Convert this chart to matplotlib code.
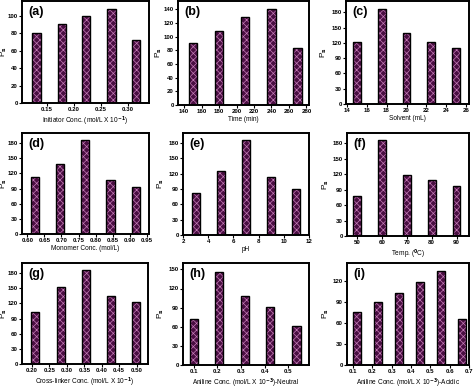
import numpy as np
import matplotlib.pyplot as plt

plt.rcParams['font.family'] = ['Liberation Sans', 'DejaVu Sans']
plt.rcParams['font.weight'] = 'bold'
plt.rcParams['mathtext.fontset'] = 'dejavusans'
plt.rcParams['mathtext.default'] = 'bf'
plt.rcParams['hatch.linewidth'] = 0.5

# bar positions (as drawn) and swelling values for each panel
x_a = [0.130, 0.177, 0.223, 0.270, 0.316]
ps_a = [80.5, 91, 99.5, 108, 72.5]
x_b = [150, 180, 210, 240, 270]
ps_b = [90.5, 108.5, 128, 140, 83.5]
x_c = [15, 17.5, 20, 22.5, 25]
ps_c = [122, 186, 139, 121, 109]
x_d = [0.622, 0.696, 0.770, 0.844, 0.918]
ps_d = [112, 138, 187, 107, 93]
x_e = [3, 5, 7, 9, 11]
ps_e = [83, 126, 186, 113, 91]
x_f = [50, 60, 70, 80, 90]
ps_f = [77, 186, 119, 108, 98]
x_g = [0.209, 0.282, 0.355, 0.427, 0.499]
ps_g = [102, 153, 186, 134, 122]
x_h = [0.100, 0.208, 0.317, 0.424, 0.535]
ps_h = [72, 146, 108, 91, 61]
x_i = [0.121, 0.230, 0.338, 0.446, 0.555, 0.662]
ps_i = [75, 89.5, 102.5, 118.5, 133.5, 66]

xlabels = ['Initiator Conc. (mol/L X 10$^{-1}$)', 'Time (min)', 'Solvent (mL)',
           'Monomer Conc. (mol/L)', 'pH', 'Temp. ($^{0}$C)',
           'Cross-linker Conc. (mol/L X 10$^{-1}$)',
           'Aniline Conc. (mol/L X 10$^{-3}$)-Neutral',
           'Aniline Conc. (mol/L X 10$^{-3}$)-Acidic']
letters = ['(a)', '(b)', '(c)', '(d)', '(e)', '(f)', '(g)', '(h)', '(i)']

# axes boxes in pixels: left, right, top, bottom
boxes = [(22, 149, 1, 103), (178, 309, 1, 105), (346, 469, 1, 104),
         (22, 149, 133, 234), (183, 309, 133, 235), (347, 469, 133, 236),
         (22, 148, 263, 364), (183, 309, 263, 365), (347, 469, 263, 365)]
xlims = [(0.103, 0.340), (133, 283), (13.93, 26.27), (0.584, 0.957), (2, 12),
         (46, 95), (0.171, 0.533), (0.055, 0.588), (0.069, 0.70)]
ylims = [117, 152, 202, 200, 200, 200, 200, 160, 145]
xticks = [np.arange(0.15, 0.31, 0.05), np.arange(140, 281, 20), np.arange(14, 27, 2),
          np.arange(0.60, 0.96, 0.05), np.arange(2, 13, 2), np.arange(50, 91, 10),
          np.arange(0.20, 0.51, 0.05), np.arange(0.1, 0.51, 0.1), np.arange(0.1, 0.71, 0.1)]
xfmt = ['{:.2f}', '{:.0f}', '{:.0f}', '{:.2f}', '{:.0f}', '{:.0f}', '{:.2f}', '{:.1f}', '{:.1f}']
yticks = [np.arange(0, 101, 20), np.arange(0, 141, 20)] + [np.arange(0, 181, 30)] * 5 + \
         [np.arange(0, 151, 30), np.arange(0, 121, 30)]
# y label right edge in pixels
ylab_x = [9, 164, 329, 9, 166, 331, 9, 166, 331]

xs = [x_a, x_b, x_c, x_d, x_e, x_f, x_g, x_h, x_i]
ys = [ps_a, ps_b, ps_c, ps_d, ps_e, ps_f, ps_g, ps_h, ps_i]

W, H = 474, 388
fig = plt.figure(figsize=(W / 100, H / 100), dpi=100)

for k in range(9):
    l, r, t, b = boxes[k]
    ax = fig.add_axes([l / W, 1 - b / H, (r - l) / W, (b - t) / H])
    x0, x1 = xlims[k]
    w = 0.064 * (x1 - x0)
    ax.bar(xs[k], ys[k], width=w, color='#4a0e42', edgecolor='#c47ab6',
           hatch='xxxxx', linewidth=0)
    ax.bar(xs[k], ys[k], width=w, fill=False, edgecolor='black', linewidth=1.0)
    ax.set_xlim(x0, x1)
    ax.set_ylim(0, ylims[k])
    ax.set_xticks(xticks[k])
    ax.set_xticklabels([xfmt[k].format(v) for v in xticks[k]])
    ax.set_yticks(yticks[k])
    ax.tick_params(labelsize=4.4, length=2, width=0.8, pad=1)
    for s in ax.spines.values():
        s.set_linewidth(1.4)
    ax.set_xlabel(xlabels[k], fontsize=4.7, labelpad=1.5)
    ax.set_ylabel('P$_s$', fontsize=6)
    ax.yaxis.set_label_coords((ylab_x[k] - l) / (r - l), 0.5)
    ax.text(0.05, 0.95, letters[k], transform=ax.transAxes, fontsize=9,
            fontweight='bold', va='top', ha='left')

fig.savefig('out.png', dpi=100)
